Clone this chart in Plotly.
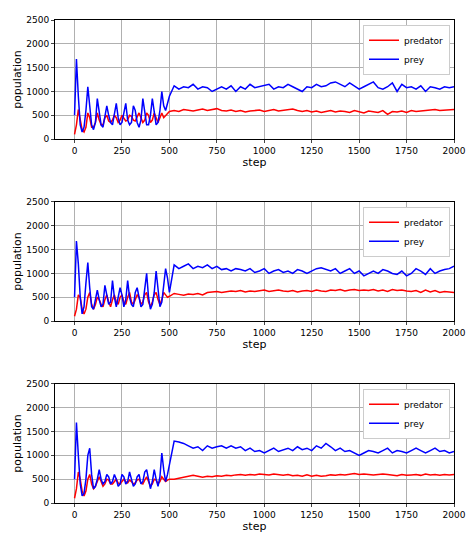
import plotly.graph_objects as go
from plotly.subplots import make_subplots

steps = list(range(0, 501, 10)) + list(range(525, 2001, 25))

prey1 = [500,1680,900,300,150,250,600,1100,700,300,
         200,350,850,600,300,250,450,700,500,350,
         300,500,750,450,300,350,600,750,400,300,
         350,700,600,350,250,400,850,600,300,300,
         500,850,550,300,350,600,1000,700,600,750,
         900,
         1120,1050,1100,1080,1150,1050,1100,1080,1000,1050,
         1100,1050,1120,1000,1100,1050,1150,1080,1100,1120,
         1150,1050,1100,1080,1150,1100,1050,1000,1100,1080,
         1150,1100,1120,1180,1200,1150,1100,1180,1120,1050,
         1100,1150,1200,1080,1050,1100,1180,1000,1150,1080,
         1100,1050,1120,1000,1100,1080,1050,1100,1080,1100]
pred1 = [100,300,620,400,200,150,250,550,450,250,
         250,350,550,400,300,300,450,500,380,350,
         400,500,450,350,400,500,450,380,400,500,
         480,400,380,450,550,450,350,400,550,500,
         350,400,550,450,350,450,550,450,500,550,
         580,
         600,580,620,600,590,610,630,600,620,640,
         600,590,610,580,600,570,590,600,610,580,
         600,620,590,600,610,630,600,580,600,570,
         590,560,580,600,570,590,580,560,600,570,
         550,590,580,560,600,520,580,570,590,560,
         600,580,590,600,610,620,600,610,620,620]

prey2 = [500,1680,1200,500,150,300,800,1230,700,300,
         250,450,650,450,300,350,750,550,350,400,
         850,500,300,500,700,550,300,450,850,500,
         350,300,600,700,450,300,350,700,1000,500,
         250,350,600,1050,700,300,400,800,1100,900,
         600,
         1180,1100,1150,1200,1100,1150,1120,1180,1100,1150,
         1080,1100,1050,1100,1080,1050,1100,1020,1050,1100,
         1000,1050,1080,1020,1050,1000,1080,1050,1000,1050,
         1100,1120,1080,1050,1100,1000,1050,1100,1000,1050,
         950,1000,1050,1000,1080,1050,1000,980,1050,950,
         1000,1100,1050,980,1100,1000,1050,1080,1100,1150]
pred2 = [100,250,550,500,250,150,250,500,600,350,
         250,350,500,450,350,300,450,550,400,300,
         450,550,400,350,500,550,400,350,500,600,
         400,350,450,550,500,350,400,550,600,400,
         300,400,550,600,450,350,450,600,550,500,
         520,
         580,560,540,570,560,580,550,600,610,620,
         600,610,630,620,640,610,630,620,640,650,
         620,640,650,630,620,640,610,630,640,620,
         650,630,620,650,640,660,630,650,660,640,
         650,640,660,630,650,620,660,640,650,630,
         620,640,600,650,610,640,600,620,610,600]

prey3 = [500,1690,1000,400,150,200,500,1000,1150,600,
         300,350,500,700,500,400,450,600,550,400,
         450,600,500,350,400,600,550,400,450,650,
         500,350,400,550,600,400,450,650,700,450,
         300,450,700,500,350,550,1050,700,450,600,
         800,
         1300,1280,1250,1200,1150,1180,1100,1200,1150,1180,
         1200,1150,1200,1150,1180,1100,1150,1080,1100,1050,
         1100,1150,1080,1120,1150,1100,1180,1120,1150,1100,
         1200,1150,1250,1180,1100,1150,1080,1100,1050,1000,
         1050,1100,1080,1050,1100,1150,1050,1100,1080,1050,
         1100,1150,1100,1050,1100,1150,1080,1100,1050,1080]
pred3 = [100,300,650,500,250,150,250,500,600,400,
         300,350,450,550,450,350,400,500,480,400,
         400,450,500,420,400,450,500,450,420,480,
         450,400,420,480,500,420,400,480,550,450,
         350,400,500,480,400,450,550,500,450,480,
         500,
         500,520,540,560,580,560,540,560,550,570,
         560,580,570,590,600,580,600,590,610,600,
         590,610,600,580,600,570,580,560,590,560,
         580,560,570,590,580,600,590,610,620,600,
         610,600,590,600,610,600,590,570,600,580,
         590,600,580,610,590,600,580,600,590,600]

series = [(prey1, pred1), (prey2, pred2), (prey3, pred3)]

fig = make_subplots(rows=3, cols=1, vertical_spacing=0.13)
for i, (prey, pred) in enumerate(series, start=1):
    lg = "legend" if i == 1 else f"legend{i}"
    fig.add_trace(go.Scatter(x=steps, y=pred, mode="lines", name="predator",
                             line=dict(color="red", width=1.5), legend=lg), row=i, col=1)
    fig.add_trace(go.Scatter(x=steps, y=prey, mode="lines", name="prey",
                             line=dict(color="blue", width=1.5), legend=lg), row=i, col=1)
    fig.update_xaxes(range=[-103, 2000], tickvals=list(range(0, 2001, 250)), title_text="step",
                     title_standoff=0, showgrid=True, gridcolor="#b0b0b0", showline=True, mirror=True,
                     linecolor="black", ticks="outside", ticklen=3, zeroline=False, row=i, col=1)
    fig.update_yaxes(range=[0, 2500], dtick=500, title_text="population", title_standoff=2,
                     showgrid=True, gridcolor="#b0b0b0", showline=True, mirror=True,
                     linecolor="black", ticks="outside", ticklen=3, zeroline=False, row=i, col=1)

leg = dict(x=0.99, xanchor="right", bgcolor="white", bordercolor="#cccccc", borderwidth=1,
           font=dict(size=9), tracegroupgap=0, itemwidth=30)
doms = [fig.layout.yaxis.domain, fig.layout.yaxis2.domain, fig.layout.yaxis3.domain]
fig.update_layout(
    width=474, height=533, template="none", plot_bgcolor="white", paper_bgcolor="white",
    font=dict(family="DejaVu Sans", size=9, color="black"),
    margin=dict(l=47, r=28, t=12, b=38, autoexpand=False), showlegend=True,
    legend=dict(leg, y=doms[0][1] - 0.01, yanchor="top"),
    legend2=dict(leg, y=doms[1][1] - 0.01, yanchor="top"),
    legend3=dict(leg, y=doms[2][1] - 0.01, yanchor="top"),
)
fig.write_html("out.html")
